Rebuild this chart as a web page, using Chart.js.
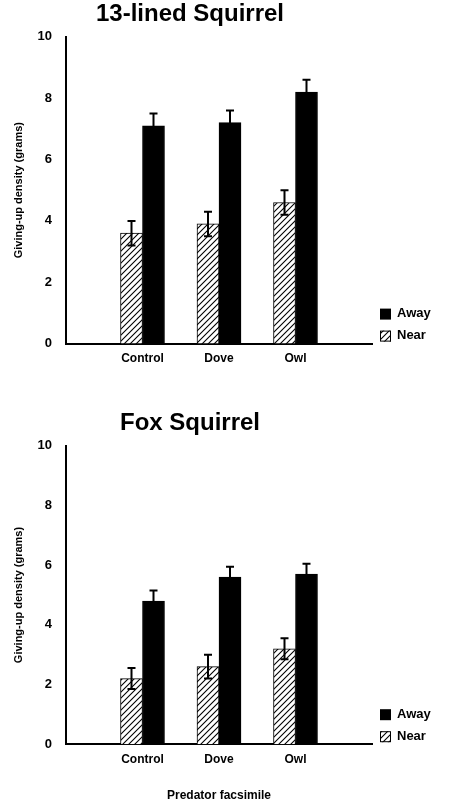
<!DOCTYPE html>
<html><head><meta charset="utf-8">
<script src="https://cdn.jsdelivr.net/npm/chart.js@4"></script>
<style>body{margin:0;background:#fff}div.c{position:absolute;left:0;width:474px}</style>
</head><body>
<div class="c" style="top:0;height:405px"><canvas id="c1"></canvas></div>
<div class="c" style="top:405px;height:405px"><canvas id="c2"></canvas></div>
<script>
const categories=['','Control','Dove','Owl',''];
const topTitle='13-lined Squirrel', bottomTitle='Fox Squirrel';
const topNear=[null,3.6,3.9,4.6,null], topAway=[null,7.1,7.2,8.2,null];
const topNearErr=[0,0.4,0.4,0.4,0], topAwayErr=[0,0.4,0.4,0.4,0];
const botNear=[null,2.2,2.6,3.2,null], botAway=[null,4.8,5.6,5.7,null];
const botNearErr=[0,0.35,0.4,0.35,0], botAwayErr=[0,0.35,0.35,0.35,0];
const yTicks=[0,2,4,6,8,10];
const legendLabels=['Away','Near'];

function hatch(){const p=document.createElement('canvas');p.width=6;p.height=6;const g=p.getContext('2d');
g.fillStyle='#fff';g.fillRect(0,0,6,6);g.strokeStyle='#000';g.lineWidth=1.1;
g.beginPath();g.moveTo(0,6);g.lineTo(6,0);g.moveTo(-3,3);g.lineTo(3,-3);g.moveTo(3,9);g.lineTo(9,3);g.stroke();
return document.createElement('canvas').getContext('2d').createPattern(p,'repeat');}
const F='"Liberation Sans", Arial, sans-serif';
const errPlugin={id:'err',afterDatasetsDraw(ch){const c=ch.ctx,y=ch.scales.y;
 ch.data.datasets.forEach((ds,i)=>{const m=ch.getDatasetMeta(i);m.data.forEach((b,j)=>{const v=ds.data[j];if(v==null)return;
  const e=ds.err[j],t=y.getPixelForValue(v+e),bo=y.getPixelForValue(v-e);c.save();c.strokeStyle='#000';c.lineWidth=2;
  c.beginPath();c.moveTo(b.x,t);c.lineTo(b.x,bo);c.moveTo(b.x-4,t);c.lineTo(b.x+4,t);c.moveTo(b.x-4,bo);c.lineTo(b.x+4,bo);c.stroke();c.restore();});});
 const a=ch.chartArea;c.save();c.font='bold 13px '+F;c.fillStyle='#000';c.textBaseline='middle';
 [[legendLabels[0],'#000'],[legendLabels[1],null]].forEach((l,k)=>{const yy=a.bottom-30+k*22;
  if(l[1]){c.fillStyle='#000';c.fillRect(380,yy-5,11,11);}else{c.fillStyle=hatch();c.fillRect(380,yy-5,11,11);c.strokeRect(380.5,yy-4.5,10,10);}
  c.fillStyle='#000';c.fillText(l[0],397,yy);});c.restore();}};
function make(id,title,near,away,ne,ae,top,bottom,xt){
 new Chart(document.getElementById(id),{type:'bar',plugins:[errPlugin],
 data:{labels:categories,datasets:[
  {label:'Near',data:near,err:ne,backgroundColor:hatch(),borderColor:'#000',borderWidth:1,barThickness:22},
  {label:'Away',data:away,err:ae,backgroundColor:'#000',borderColor:'#000',borderWidth:1,barThickness:22}]},
 options:{responsive:true,maintainAspectRatio:false,animation:false,
  layout:{padding:{left:8,right:102,top:top,bottom:bottom}},
  plugins:{legend:{display:false},tooltip:{enabled:false},
   title:{display:true,text:title,font:{family:F,size:24,weight:'bold'},color:'#000',padding:{top:0,bottom:8}}},
  scales:{x:{offset:false,grid:{display:false,drawTicks:false},border:{color:'#000',width:2},
    ticks:{color:'#000',font:{family:F,size:12,weight:'bold'},padding:8,autoSkip:false},
    title:{display:!!xt,text:xt||'',color:'#000',font:{family:F,size:12,weight:'bold'},padding:{top:14}}},
   y:{min:0,max:10,afterBuildTicks:s=>{s.ticks=yTicks.map(v=>({value:v}));},afterFit:s=>{s.width=58;},
    grid:{display:false},border:{color:'#000',width:2},
    ticks:{color:'#000',font:{family:F,size:13,weight:'bold'},padding:6},
    title:{display:true,text:'Giving-up density (grams)',color:'#000',font:{family:F,size:11,weight:'bold'}}}}}});
}
make('c1',topTitle,topNear,topAway,topNearErr,topAwayErr,0,31,null);
make('c2',bottomTitle,botNear,botAway,botNearErr,botAwayErr,4,3,'Predator facsimile');
</script></body></html>
